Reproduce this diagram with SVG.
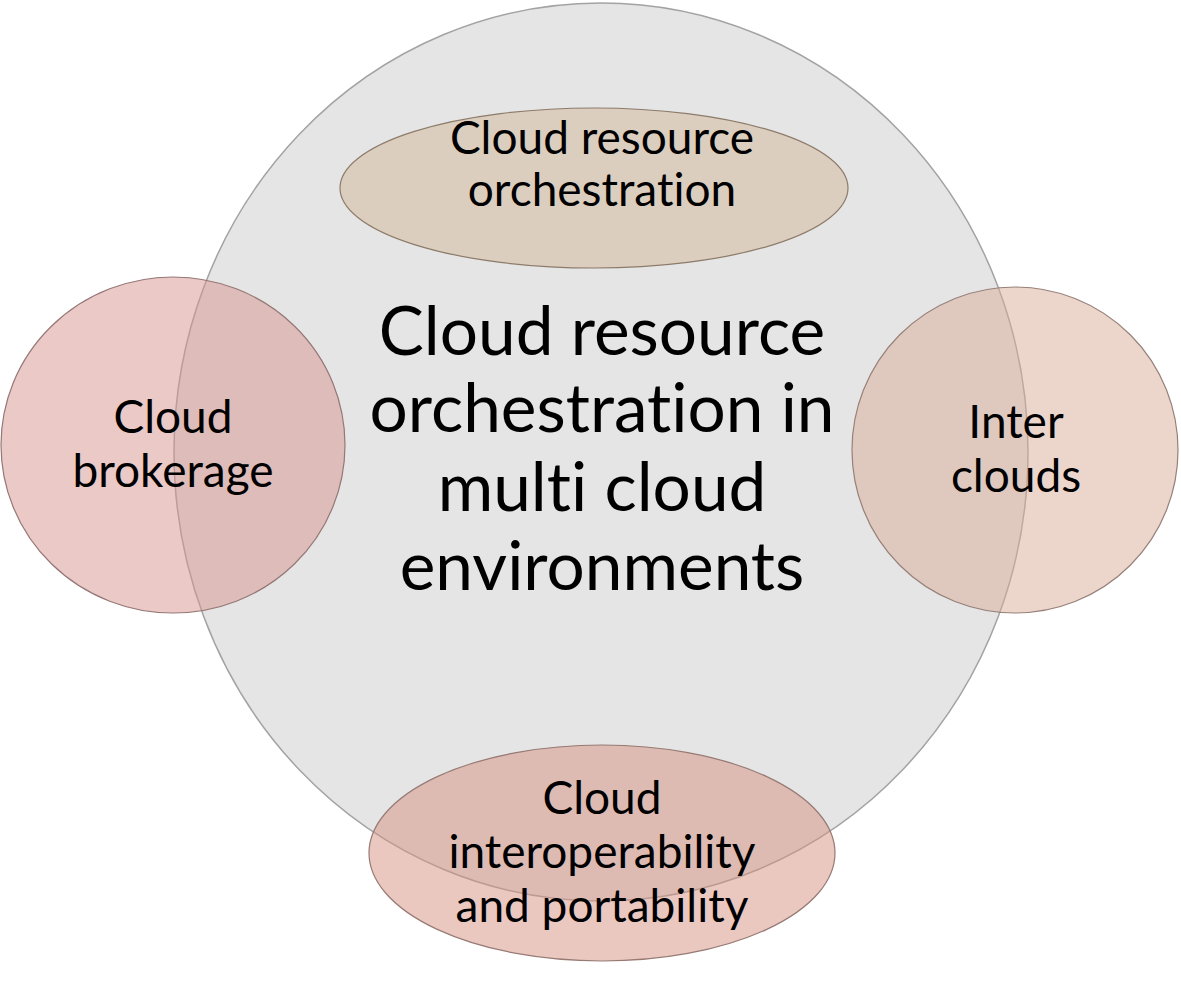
<svg xmlns="http://www.w3.org/2000/svg" width="1181" height="981" viewBox="0 0 1181 981">
<style>
  text { font-family: Lato, "Open Sans", "Liberation Sans", sans-serif; fill: #000; text-anchor: middle; font-variant-ligatures: none; }
  .sat { font-size: 46px; }
  .main { font-size: 67.5px; }
  .sub { stroke-width: 1.2; fill-opacity: 0.5; }
</style>
<rect width="1181" height="981" fill="#ffffff"/>
<g id="center-node">
  <ellipse cx="601" cy="452" rx="427" ry="449" fill="#e5e5e5" stroke="#a3a3a3" stroke-width="1.5"/>
</g>
<g id="node-top">
  <ellipse class="sub" cx="594" cy="188" rx="254" ry="80" fill="#d3b797" stroke="#8c7b6a"/>
  <text class="sat" x="602" y="154">Cloud resource</text>
  <text class="sat" x="602" y="206">orchestration</text>
</g>
<g id="node-left">
  <ellipse class="sub" cx="173" cy="445" rx="172" ry="168" fill="#d5938f" stroke="#957775"/>
  <text class="sat" x="173" y="433">Cloud</text>
  <text class="sat" x="173" y="487">brokerage</text>
</g>
<g id="node-right">
  <ellipse class="sub" cx="1015" cy="450" rx="163" ry="163" fill="#d9ad97" stroke="#97807a"/>
  <text class="sat" x="1016" y="438">Inter</text>
  <text class="sat" x="1016" y="492">clouds</text>
</g>
<g id="node-bottom">
  <ellipse class="sub" cx="602" cy="853" rx="233" ry="108" fill="#d59181" stroke="#977a74"/>
  <text class="sat" x="602" y="814">Cloud</text>
  <text class="sat" x="602" y="868">interoperability</text>
  <text class="sat" x="602" y="922">and portability</text>
</g>
<g id="center-label">
  <text class="main" x="602" y="355">Cloud resource</text>
  <text class="main" x="602" y="432">orchestration in</text>
  <text class="main" x="602" y="511">multi cloud</text>
  <text class="main" x="602" y="590">environments</text>
</g>
<g id="connectors"></g>
</svg>
